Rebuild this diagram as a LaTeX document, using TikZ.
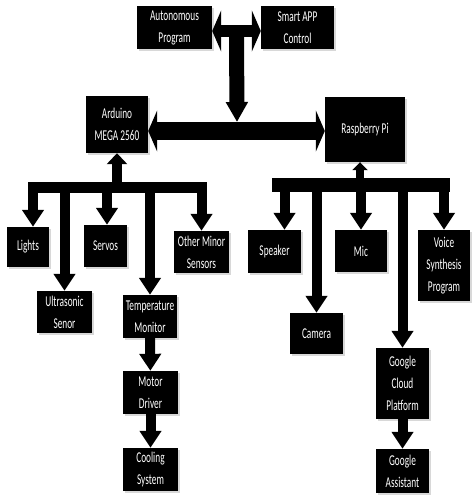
\documentclass[tikz,border=0pt]{standalone}
\usepackage{fontspec}
\setmainfont[FakeStretch=0.62]{Carlito}
\usetikzlibrary{arrows.meta,shadows}

\begin{document}
\begin{tikzpicture}[x=1pt,y=-1pt,
    blk/.style={fill=black,text=white,inner sep=0pt,align=center,
      font=\fontsize{15}{22}\selectfont,
      drop shadow={shadow xshift=1.5pt,shadow yshift=-1.5pt,fill=gray!60}},
    bus/.style={fill=black,inner sep=0pt},
    arrdn/.style={line width=10pt,-{Triangle[width=21pt,length=17pt]}},
    arrup/.style={line width=10pt,-{Triangle[width=20pt,length=11pt]}},
    arrboth/.style={line width=#1,{Triangle[width=41pt,length=9pt]}-{Triangle[width=41pt,length=9pt]}}]
  \useasboundingbox (0,0) rectangle (474,501);

  % Control layer
  \node[blk,minimum width=75pt,minimum height=43pt] (auto) at (174.5,27.5) {Autonomous\\Program};
  \node[blk,minimum width=73pt,minimum height=43pt] (smart) at (297.5,27.5) {Smart APP\\Control};
  \node[blk,minimum width=62pt,minimum height=57pt] (arduino) at (117,124.5) {Arduino\\MEGA 2560};
  \node[blk,minimum width=80pt,minimum height=65pt] (rpi) at (365,129.5) {Raspberry Pi};
  \coordinate (mid) at (237,131);

  % Arduino side
  \node[bus,minimum width=179pt,minimum height=11pt] (lbus) at (117.5,187.5) {};
  \node[blk,minimum width=42pt,minimum height=40pt] (lights) at (28,247) {Lights};
  \node[blk,minimum width=55pt,minimum height=42pt] (ultra) at (64.5,312) {Ultrasonic\\Senor};
  \node[blk,minimum width=43pt,minimum height=42pt] (servos) at (105.5,246) {Servos};
  \node[blk,minimum width=54pt,minimum height=43pt] (temp) at (150,316.5) {Temperature\\Monitor};
  \node[blk,minimum width=55pt,minimum height=42pt] (other) at (201.5,252) {Other Minor\\Sensors};
  \node[blk,minimum width=55pt,minimum height=43pt] (motor) at (150.5,392.5) {Motor\\Driver};
  \node[blk,minimum width=55pt,minimum height=43pt] (cooling) at (150.5,469.5) {Cooling\\System};

  % Raspberry Pi side
  \node[bus,minimum width=178pt,minimum height=14pt] (rbus) at (361,184.5) {};
  \node[blk,minimum width=53pt,minimum height=43pt] (speaker) at (274.5,251.5) {Speaker};
  \node[blk,minimum width=53pt,minimum height=41pt] (camera) at (316.5,333.5) {Camera};
  \node[blk,minimum width=52pt,minimum height=42pt] (mic) at (361,251) {Mic};
  \node[blk,minimum width=52pt,minimum height=71pt] (voice) at (444,265.5) {Voice\\Synthesis\\Program};
  \node[blk,minimum width=53pt,minimum height=71pt] (gcp) at (402.5,383.5) {Google\\Cloud\\Platform};
  \node[blk,minimum width=53pt,minimum height=44pt] (ga) at (402.5,471) {Google\\Assistant};

  % Big arrows
  \draw[arrboth=12pt] ([yshift=-3.5pt]auto.east) -- coordinate (top) ([yshift=-3.5pt]smart.west);
  \draw[line width=15pt,-{Triangle[width=21pt,length=20pt]}] (top) -- ([yshift=9pt]mid);
  \draw[arrboth=18pt] (arduino.east |- mid) -- (rpi.west |- mid);
  \draw[arrup] (arduino |- lbus.center) -- (arduino.south);
  \draw[line width=8pt,-{Triangle[width=15pt,length=8pt]}] ([xshift=-5pt]rpi.south |- rbus.center) -- ([xshift=-5pt]rpi.south);

  % Bus arrows
  \draw[arrdn] ([xshift=5pt]lights.north |- lbus.center) -- ([xshift=5pt]lights.north);
  \draw[arrdn] (ultra |- lbus.center) -- (ultra.north);
  \draw[arrdn] ([xshift=1.5pt]servos.north |- lbus.center) -- ([xshift=1.5pt]servos.north);
  \draw[arrdn] (temp |- lbus.center) -- (temp.north);
  \draw[arrdn] (other |- lbus.center) -- (other.north);
  \draw[arrdn] ([xshift=10pt]speaker.north |- rbus.center) -- ([xshift=10pt]speaker.north);
  \draw[arrdn] (camera |- rbus.center) -- (camera.north);
  \draw[arrdn] (mic |- rbus.center) -- (mic.north);
  \draw[arrdn] (gcp |- rbus.center) -- (gcp.north);
  \draw[arrdn] (voice |- rbus.center) -- (voice.north);

  % Chains
  \draw[arrdn] (temp) -- (motor);
  \draw[arrdn] (motor) -- (cooling);
  \draw[arrdn] (gcp) -- (ga);
\end{tikzpicture}
\end{document}
